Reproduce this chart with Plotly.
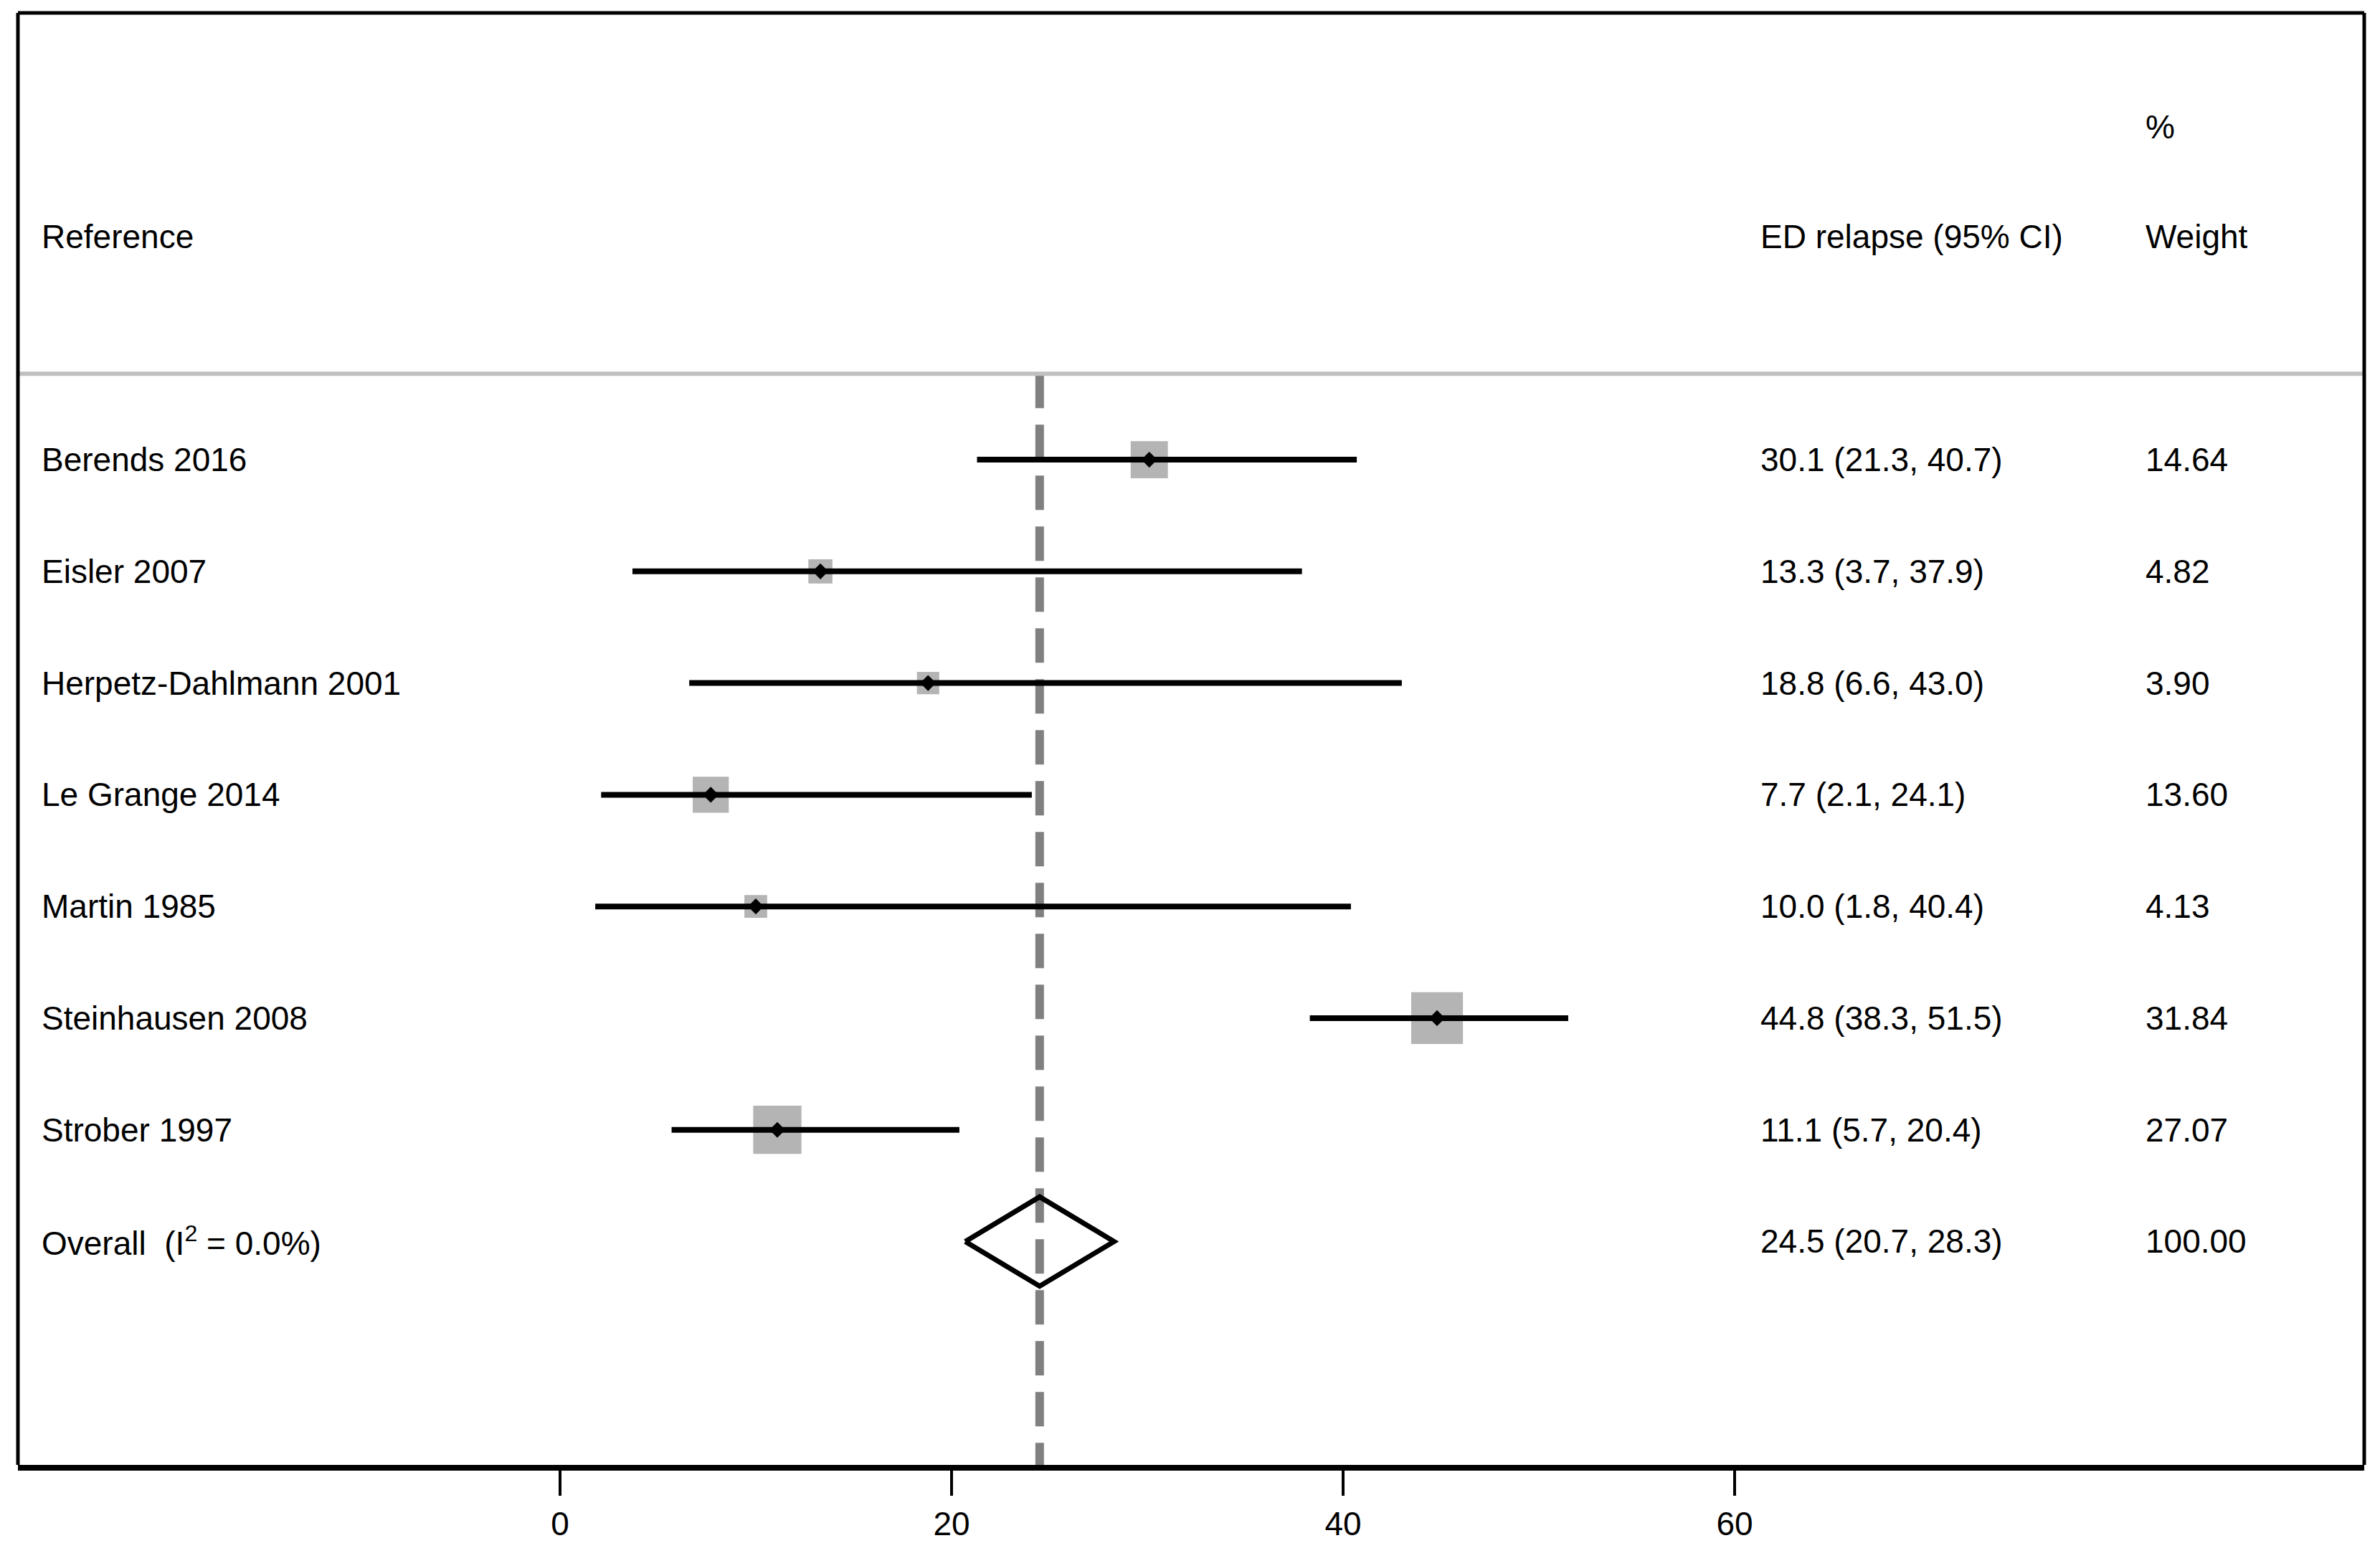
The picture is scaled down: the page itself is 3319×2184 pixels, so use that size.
import plotly.graph_objects as go

# study-level data
studies = ["Berends 2016", "Eisler 2007", "Herpetz-Dahlmann 2001", "Le Grange 2014",
           "Martin 1985", "Steinhausen 2008", "Strober 1997"]
estimate = [30.1, 13.3, 18.8, 7.7, 10.0, 44.8, 11.1]
ci_low = [21.3, 3.7, 6.6, 2.1, 1.8, 38.3, 5.7]
ci_high = [40.7, 37.9, 43.0, 24.1, 40.4, 51.5, 20.4]
weights = [14.64, 4.82, 3.90, 13.60, 4.13, 31.84, 27.07]

# pooled result
overall_label = "Overall  (I<sup>2</sup> = 0.0%)"
overall_est = 24.5
overall_low = 20.7
overall_high = 28.3

x_ticks = [0, 20, 40, 60]

FONT = "Liberation Sans, Arial, sans-serif"
FS = 46

rows = [-(i + 1) for i in range(len(studies))]
overall_row = -(len(studies) + 1)

fig = go.Figure()

# weight boxes (array size makes plotly default to 0.7 opacity, so force 1)
fig.add_trace(go.Scatter(
    x=estimate, y=rows, mode="markers",
    marker=dict(symbol="square", color="#b4b4b4", opacity=1,
                size=[9 + 11.2 * w ** 0.5 for w in weights],
                line=dict(width=0)),
    hoverinfo="skip"))

# confidence interval lines
ci_x, ci_y = [], []
for lo, hi, r in zip(ci_low, ci_high, rows):
    ci_x += [lo, hi, None]
    ci_y += [r, r, None]
fig.add_trace(go.Scatter(x=ci_x, y=ci_y, mode="lines",
                         line=dict(color="black", width=8), hoverinfo="skip"))

# point estimates
fig.add_trace(go.Scatter(
    x=estimate, y=rows, mode="markers",
    marker=dict(symbol="diamond", color="black", size=17, opacity=1, line=dict(width=0)),
    hoverinfo="skip"))

# overall diamond
h = 0.40
fig.add_trace(go.Scatter(
    x=[overall_low, overall_est, overall_high, overall_est, overall_low],
    y=[overall_row, overall_row + h, overall_row, overall_row - h, overall_row],
    mode="lines", line=dict(color="black", width=7), hoverinfo="skip"))

# dashed line at the pooled estimate
fig.add_shape(type="line", xref="x", yref="y", x0=overall_est, x1=overall_est,
              y0=-0.23, y1=-10, layer="below",
              line=dict(color="#808080", width=12, dash="48px,23px"))

# header separator
fig.add_shape(type="line", xref="paper", yref="y", x0=0, x1=1, y0=-0.23, y1=-0.23,
              line=dict(color="#c0c0c0", width=6))

# frame (left, top, right)
for x0, y0, x1, y1 in [(0, 0, 0, 1), (0, 1, 1, 1), (1, 0, 1, 1)]:
    fig.add_shape(type="line", xref="paper", yref="paper", x0=x0, y0=y0, x1=x1, y1=y1,
                  line=dict(color="black", width=5))

# text columns
col_label, col_ci, col_wt = 0.0095, 0.7421, 0.9062


def txt(x, y, s):
    fig.add_annotation(x=x, y=y, xref="paper", yref="y", text=s, showarrow=False,
                       xanchor="left", yanchor="middle",
                       font=dict(family=FONT, size=FS, color="black"))


txt(col_label, 1.0, "Reference")
txt(col_ci, 1.0, "ED relapse (95% CI)")
txt(col_wt, 1.0, "Weight")
txt(col_wt, 1.98, "%")

for name, e, lo, hi, w, r in zip(studies, estimate, ci_low, ci_high, weights, rows):
    txt(col_label, r, name)
    txt(col_ci, r, f"{e:.1f} ({lo:.1f}, {hi:.1f})")
    txt(col_wt, r, f"{w:.2f}")

txt(col_label, overall_row, overall_label)
txt(col_ci, overall_row, f"{overall_est:.1f} ({overall_low:.1f}, {overall_high:.1f})")
txt(col_wt, overall_row, f"{sum(weights):.2f}")

fig.update_xaxes(range=[-27.69, 92.16], tickvals=x_ticks, ticks="outside",
                 ticklen=35, tickwidth=4, tickcolor="black",
                 showline=True, linewidth=8, linecolor="black",
                 showgrid=False, zeroline=False,
                 tickfont=dict(family=FONT, size=FS, color="black"))
fig.update_yaxes(range=[-10, 3], visible=False, showgrid=False, zeroline=False)

# page body adds an 8px margin, so the figure is a bit smaller than the window
fig.update_layout(
    width=3311, height=2176,
    margin=dict(l=17, r=22, t=10, b=141),
    paper_bgcolor="white", plot_bgcolor="white",
    showlegend=False,
    font=dict(family=FONT, size=FS, color="black"),
)

fig.write_html("out.html")
